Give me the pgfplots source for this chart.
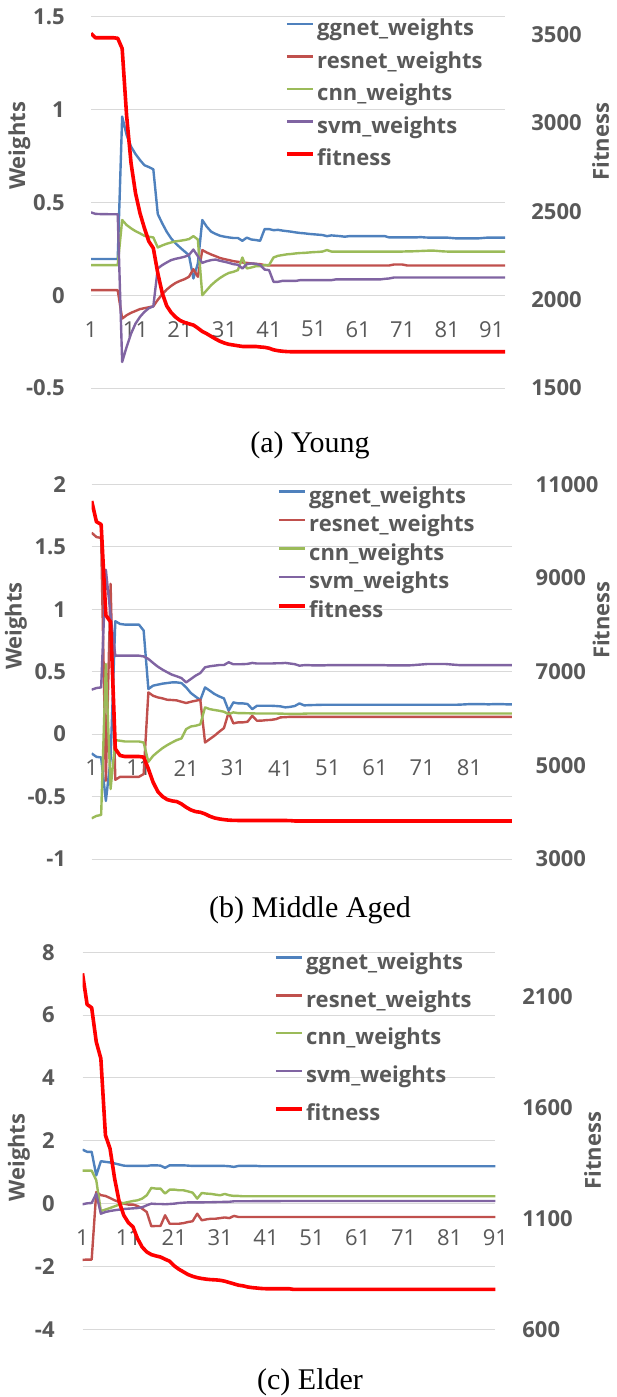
\documentclass[border=0pt]{standalone}
\usepackage{fontspec}
\setmainfont{Liberation Serif}
\newfontfamily\calfont{Open Sans}
\usepackage{pgfplots}
\usepackage{pgfplotstable}
\pgfplotsset{compat=1.18}

\definecolor{ggc}{RGB}{79,129,189}
\definecolor{resc}{RGB}{192,80,77}
\definecolor{cnnc}{RGB}{155,187,89}
\definecolor{svmc}{RGB}{128,100,162}
\definecolor{fitc}{RGB}{255,0,0}
\definecolor{txt}{RGB}{89,89,89}
\definecolor{grd}{RGB}{217,217,217}

% (a) Young
\pgfplotstableread{
x gg res cnn svm fit
1 0.195 0.027 0.162 0.446 3505
2 0.195 0.027 0.162 0.438 3481
3 0.195 0.027 0.162 0.437 3481
4 0.195 0.027 0.162 0.437 3481
5 0.195 0.027 0.162 0.436 3481
6 0.195 0.027 0.162 0.436 3481
7 0.195 0.027 0.162 0.436 3478
8 0.962 -0.126 0.405 -0.360 3420
9 0.863 -0.108 0.378 -0.279 3040
10 0.800 -0.095 0.360 -0.207 2771
11 0.760 -0.085 0.345 -0.153 2602
12 0.728 -0.075 0.333 -0.117 2489
13 0.700 -0.070 0.320 -0.090 2404
14 0.690 -0.065 0.315 -0.070 2329
15 0.678 -0.060 0.311 -0.060 2291
16 0.437 -0.025 0.257 0.144 2150
17 0.387 0.005 0.268 0.162 2037
18 0.342 0.030 0.277 0.176 1965
19 0.306 0.050 0.284 0.189 1927
20 0.279 0.066 0.290 0.196 1901
21 0.257 0.077 0.293 0.201 1882
22 0.236 0.086 0.297 0.207 1871
23 0.216 0.099 0.302 0.216 1863
24 0.090 0.140 0.318 0.246 1856
25 0.170 0.099 0.300 0.210 1839
26 0.405 0.243 0.000 0.174 1820
27 0.369 0.230 0.027 0.183 1807
28 0.342 0.219 0.054 0.189 1792
29 0.330 0.210 0.075 0.192 1777
30 0.320 0.200 0.093 0.185 1764
31 0.315 0.194 0.108 0.180 1754
32 0.311 0.189 0.120 0.174 1747
33 0.308 0.183 0.126 0.167 1743
34 0.308 0.180 0.135 0.164 1739
35 0.293 0.176 0.203 0.144 1735
36 0.310 0.174 0.144 0.167 1735
37 0.300 0.171 0.149 0.171 1735
38 0.297 0.169 0.156 0.169 1735
39 0.293 0.167 0.156 0.162 1732
40 0.356 0.162 0.162 0.138 1730
41 0.356 0.160 0.162 0.135 1725
42 0.350 0.160 0.203 0.072 1716
43 0.352 0.160 0.212 0.072 1711
44 0.348 0.160 0.216 0.077 1708
45 0.345 0.160 0.220 0.077 1706
46 0.342 0.160 0.222 0.077 1705
47 0.338 0.160 0.225 0.077 1705
48 0.335 0.160 0.227 0.081 1705
49 0.333 0.160 0.228 0.081 1705
50 0.330 0.160 0.230 0.081 1705
51 0.328 0.160 0.232 0.081 1705
52 0.326 0.160 0.233 0.081 1705
53 0.324 0.160 0.235 0.081 1705
54 0.318 0.160 0.243 0.081 1705
55 0.322 0.160 0.235 0.081 1705
56 0.320 0.160 0.235 0.085 1705
57 0.318 0.160 0.235 0.085 1705
58 0.315 0.160 0.235 0.085 1705
59 0.318 0.160 0.235 0.085 1705
60 0.318 0.160 0.235 0.085 1705
61 0.318 0.160 0.235 0.085 1705
62 0.318 0.160 0.235 0.085 1705
63 0.318 0.160 0.235 0.085 1705
64 0.318 0.160 0.235 0.085 1705
65 0.318 0.160 0.235 0.085 1705
66 0.318 0.160 0.235 0.085 1705
67 0.318 0.160 0.235 0.088 1705
68 0.311 0.160 0.235 0.090 1705
69 0.311 0.165 0.235 0.095 1705
70 0.311 0.165 0.235 0.095 1705
71 0.311 0.165 0.235 0.095 1705
72 0.311 0.160 0.236 0.095 1705
73 0.311 0.160 0.236 0.095 1705
74 0.311 0.160 0.237 0.095 1705
75 0.313 0.160 0.238 0.095 1705
76 0.311 0.160 0.239 0.095 1705
77 0.310 0.160 0.240 0.095 1705
78 0.310 0.160 0.240 0.095 1705
79 0.310 0.160 0.238 0.095 1705
80 0.310 0.160 0.236 0.095 1705
81 0.310 0.160 0.235 0.095 1705
82 0.308 0.160 0.235 0.095 1705
83 0.306 0.160 0.235 0.095 1705
84 0.306 0.160 0.235 0.095 1705
85 0.306 0.160 0.235 0.095 1705
86 0.306 0.160 0.235 0.095 1705
87 0.306 0.160 0.235 0.095 1705
88 0.306 0.160 0.235 0.095 1705
89 0.308 0.160 0.235 0.095 1705
90 0.310 0.160 0.235 0.095 1705
91 0.310 0.160 0.235 0.095 1705
92 0.310 0.160 0.235 0.095 1705
93 0.310 0.160 0.235 0.095 1705
94 0.310 0.160 0.235 0.095 1705
}\dataA

% (b) Middle Aged
\pgfplotstableread{
x gg res cnn svm fit
1 -0.155 1.612 -0.674 0.356 10644
2 -0.182 1.578 -0.655 0.369 10201
3 -0.187 1.570 -0.647 0.374 10144
4 -0.535 -0.374 0.561 1.316 8205
5 -0.200 1.203 -0.440 0.950 8062
6 0.904 -0.366 -0.048 0.628 5353
7 0.882 -0.342 -0.053 0.628 5210
8 0.877 -0.342 -0.059 0.628 5189
9 0.877 -0.342 -0.059 0.628 5189
10 0.877 -0.342 -0.059 0.628 5189
11 0.877 -0.342 -0.059 0.628 5189
12 0.829 -0.320 -0.067 0.622 5175
13 0.361 0.334 -0.222 0.602 4925
14 0.388 0.307 -0.174 0.570 4640
15 0.396 0.294 -0.142 0.540 4440
16 0.404 0.286 -0.112 0.516 4333
17 0.409 0.275 -0.088 0.495 4269
18 0.414 0.273 -0.067 0.476 4241
19 0.414 0.270 -0.048 0.463 4226
20 0.409 0.259 -0.035 0.449 4176
21 0.374 0.249 0.040 0.414 4105
22 0.329 0.259 0.061 0.441 4048
23 0.300 0.267 0.067 0.468 4012
24 0.273 0.275 0.078 0.489 3998
25 0.374 -0.067 0.214 0.535 3963
26 0.348 -0.040 0.200 0.543 3913
27 0.321 -0.013 0.193 0.548 3877
28 0.302 0.019 0.187 0.553 3856
29 0.286 0.048 0.179 0.553 3841
30 0.187 0.174 0.160 0.575 3830
31 0.254 0.086 0.174 0.559 3825
32 0.246 0.094 0.168 0.559 3823
33 0.246 0.094 0.168 0.560 3822
34 0.241 0.099 0.167 0.562 3822
35 0.200 0.147 0.166 0.570 3822
36 0.227 0.107 0.165 0.565 3822
37 0.227 0.108 0.165 0.565 3822
38 0.227 0.112 0.165 0.565 3822
39 0.227 0.114 0.165 0.565 3822
40 0.225 0.120 0.165 0.567 3822
41 0.222 0.134 0.164 0.567 3822
42 0.214 0.136 0.163 0.570 3822
43 0.218 0.138 0.162 0.565 3820
44 0.225 0.138 0.162 0.560 3812
45 0.246 0.138 0.162 0.548 3812
46 0.230 0.138 0.164 0.552 3812
47 0.232 0.138 0.165 0.552 3812
48 0.233 0.138 0.165 0.550 3812
49 0.234 0.138 0.165 0.550 3812
50 0.235 0.138 0.165 0.550 3812
51 0.235 0.138 0.165 0.552 3812
52 0.235 0.138 0.165 0.552 3812
53 0.235 0.138 0.165 0.552 3812
54 0.235 0.138 0.165 0.552 3812
55 0.235 0.138 0.165 0.552 3812
56 0.235 0.138 0.165 0.552 3812
57 0.235 0.138 0.165 0.552 3812
58 0.235 0.138 0.165 0.552 3812
59 0.235 0.138 0.165 0.552 3812
60 0.235 0.138 0.165 0.552 3812
61 0.235 0.138 0.165 0.552 3812
62 0.235 0.138 0.165 0.552 3812
63 0.235 0.138 0.165 0.552 3812
64 0.235 0.138 0.165 0.550 3812
65 0.235 0.138 0.165 0.550 3812
66 0.235 0.138 0.165 0.550 3812
67 0.235 0.138 0.165 0.550 3812
68 0.235 0.138 0.165 0.550 3812
69 0.235 0.138 0.165 0.552 3812
70 0.235 0.138 0.165 0.555 3812
71 0.235 0.138 0.165 0.558 3812
72 0.235 0.138 0.165 0.561 3812
73 0.235 0.138 0.165 0.561 3812
74 0.235 0.138 0.165 0.561 3812
75 0.235 0.138 0.165 0.561 3812
76 0.235 0.138 0.165 0.561 3812
77 0.235 0.138 0.165 0.558 3812
78 0.235 0.138 0.165 0.555 3812
79 0.236 0.138 0.165 0.552 3812
80 0.238 0.138 0.165 0.552 3812
81 0.240 0.138 0.165 0.552 3812
82 0.240 0.138 0.165 0.552 3812
83 0.240 0.138 0.165 0.552 3812
84 0.240 0.138 0.165 0.552 3812
85 0.238 0.138 0.165 0.552 3812
86 0.240 0.138 0.165 0.552 3812
87 0.240 0.138 0.165 0.552 3812
88 0.240 0.138 0.165 0.552 3812
89 0.238 0.138 0.165 0.552 3812
90 0.238 0.138 0.165 0.552 3812
}\dataB

% (c) Elder
\pgfplotstableread{
x gg res cnn svm fit
1 1.72 -1.79 1.05 -0.02 2205
2 1.65 -1.78 1.05 0.01 2065
3 1.65 -1.78 1.05 0.02 2050
4 0.90 0.37 0.745 0.32 1896
5 1.35 0.27 -0.234 -0.32 1821
6 1.33 0.245 -0.19 -0.266 1475
7 1.31 0.18 -0.14 -0.234 1415
8 1.28 0.106 -0.085 -0.21 1280
9 1.245 0.053 -0.03 -0.19 1175
10 1.21 0.0 0.02 -0.17 1114
11 1.20 -0.03 0.053 -0.16 1081
12 1.20 -0.03 0.085 -0.15 1062
13 1.20 -0.074 0.106 -0.14 1009
14 1.20 -0.16 0.16 -0.117 971
15 1.20 -0.266 0.266 -0.053 949
16 1.22 -0.72 0.50 0.0 937
17 1.22 -0.71 0.48 -0.01 931
18 1.21 -0.71 0.48 -0.01 926
19 1.14 -0.37 0.32 -0.02 916
20 1.22 -0.64 0.447 -0.01 907
21 1.22 -0.64 0.447 0.0 886
22 1.22 -0.64 0.426 0.02 871
23 1.22 -0.62 0.426 0.03 859
24 1.21 -0.585 0.39 0.04 847
25 1.20 -0.56 0.35 0.04 839
26 1.20 -0.32 0.16 0.04 833
27 1.20 -0.53 0.34 0.04 829
28 1.20 -0.50 0.32 0.045 826
29 1.20 -0.48 0.31 0.045 824
30 1.20 -0.48 0.287 0.05 823
31 1.20 -0.46 0.266 0.053 821
32 1.20 -0.44 0.31 0.055 817
33 1.19 -0.46 0.266 0.06 811
34 1.17 -0.39 0.245 0.075 805
35 1.20 -0.425 0.245 0.075 799
36 1.20 -0.425 0.234 0.075 796
37 1.20 -0.425 0.234 0.075 791
38 1.20 -0.425 0.234 0.078 788
39 1.20 -0.425 0.234 0.08 786
40 1.19 -0.425 0.234 0.08 784
41 1.19 -0.425 0.234 0.08 783
42 1.19 -0.425 0.234 0.08 783
43 1.19 -0.425 0.234 0.08 783
44 1.19 -0.425 0.234 0.082 783
45 1.19 -0.425 0.234 0.085 783
46 1.19 -0.425 0.234 0.085 783
47 1.19 -0.425 0.234 0.085 780
48 1.19 -0.425 0.234 0.085 780
49 1.19 -0.425 0.234 0.085 780
50 1.19 -0.425 0.234 0.085 780
51 1.19 -0.425 0.234 0.085 780
52 1.19 -0.425 0.234 0.085 780
53 1.19 -0.425 0.234 0.085 780
54 1.19 -0.425 0.234 0.085 780
55 1.19 -0.425 0.234 0.085 780
56 1.19 -0.425 0.234 0.085 780
57 1.19 -0.425 0.234 0.085 780
58 1.19 -0.425 0.234 0.085 780
59 1.19 -0.425 0.234 0.085 780
60 1.19 -0.425 0.234 0.085 780
61 1.19 -0.425 0.234 0.085 780
62 1.19 -0.425 0.234 0.085 780
63 1.19 -0.425 0.234 0.085 780
64 1.19 -0.425 0.234 0.085 780
65 1.19 -0.425 0.234 0.085 780
66 1.19 -0.425 0.234 0.085 780
67 1.19 -0.425 0.234 0.085 780
68 1.19 -0.425 0.234 0.085 780
69 1.19 -0.425 0.234 0.085 780
70 1.19 -0.425 0.234 0.085 780
71 1.19 -0.425 0.234 0.085 780
72 1.19 -0.425 0.234 0.085 780
73 1.19 -0.425 0.234 0.085 780
74 1.19 -0.425 0.234 0.085 780
75 1.19 -0.425 0.234 0.085 780
76 1.19 -0.425 0.234 0.085 780
77 1.19 -0.425 0.234 0.085 780
78 1.19 -0.425 0.234 0.085 780
79 1.19 -0.425 0.234 0.085 780
80 1.19 -0.425 0.234 0.085 780
81 1.19 -0.425 0.234 0.085 780
82 1.19 -0.425 0.234 0.085 780
83 1.19 -0.425 0.234 0.085 780
84 1.19 -0.425 0.234 0.085 780
85 1.19 -0.425 0.234 0.085 780
86 1.19 -0.425 0.234 0.085 780
87 1.19 -0.425 0.234 0.085 780
88 1.19 -0.425 0.234 0.085 780
89 1.19 -0.425 0.234 0.085 780
90 1.19 -0.425 0.234 0.085 780
91 1.19 -0.425 0.234 0.085 780
}\dataC

\pgfplotsset{
  panel/.style={
    scale only axis, anchor=south west,
    tick style={draw=none}, major tick length=0pt,
    axis line style={draw=none},
    scaled y ticks=false,
    yticklabel style={font=\calfont\bfseries\fontsize{11}{13}\selectfont, text=txt, inner sep=0pt},
    ylabel style={font=\calfont\bfseries\fontsize{11}{13}\selectfont, text=txt, anchor=center},
    every axis plot/.append style={line width=1.2pt, line join=round, no marks},
  },
  weightaxis/.style={
    panel,
    axis x line*=middle, axis y line*=left,
    hide obscured x ticks=false,
    ymajorgrids, grid style={grd, line width=0.5pt},
    xticklabel style={font=\calfont\fontsize{11}{13}\selectfont, text=txt, anchor=center, inner sep=0pt, yshift=-17pt},
    yticklabel style={anchor=east},
  },
  fitaxis/.style={
    panel,
    axis x line=none, axis y line*=right,
    yticklabel style={anchor=west},
    legend cell align=left,
    legend image code/.code={\draw[##1] (0pt,2.9pt) -- (13.3pt,2.9pt);},
    legend style={draw=none, fill=none, anchor=north west, inner sep=0pt, outer sep=0pt,
      column sep=1pt, text=txt, font=\calfont\bfseries\fontsize{11}{13}\selectfont,
      nodes={inner sep=0pt, text height=8.5pt, text depth=2.5pt}},
  },
}

\begin{document}
\begin{tikzpicture}
\useasboundingbox (0,0) rectangle (308pt,-698.5pt);

% ---------- (a) Young ----------
\begin{axis}[weightaxis, at={(45.5pt,-194pt)}, width=207pt, height=185.65pt,
  xmin=1, xmax=94, ymin=-0.5, ymax=1.5,
  xtick={1,11,...,91}, xticklabels={1,11,21,31,41,51,61,71,81,91},
  ytick={-0.5,0,0.5,1,1.5}, yticklabels={-0.5,0,0.5,1,1.5},
  yticklabel style={xshift=-13pt},
  ylabel={Weights}, ylabel style={at={(axis description cs:-0.1727,0.6518)}}]
\addplot[ggc] table[x=x,y=gg]{\dataA};
\addplot[resc] table[x=x,y=res]{\dataA};
\addplot[cnnc] table[x=x,y=cnn]{\dataA};
\addplot[svmc] table[x=x,y=svm]{\dataA};
\end{axis}
\begin{axis}[fitaxis, at={(45.5pt,-194pt)}, width=207pt, height=185.65pt,
  xmin=1, xmax=94, ymin=1500, ymax=3600,
  ytick={1500,2000,2500,3000,3500}, yticklabels={1500,2000,2500,3000,3500},
  yticklabel style={xshift=13pt},
  ylabel={Fitness}, ylabel style={at={(axis description cs:1.2307,0.6633)}},
  legend style={at={(axis description cs:0.4686,0.9943)}, row sep=5.25pt}]
\addlegendimage{ggc, line width=1.2pt}\addlegendentry{ggnet\_weights}
\addlegendimage{resc, line width=1.2pt}\addlegendentry{resnet\_weights}
\addlegendimage{cnnc, line width=1.2pt}\addlegendentry{cnn\_weights}
\addlegendimage{svmc, line width=1.2pt}\addlegendentry{svm\_weights}
\addplot[fitc, line width=1.8pt] table[x=x,y=fit]{\dataA};
\addlegendentry{fitness}
\end{axis}
\node[font=\fontsize{15}{18}\selectfont] at (155pt,-222.85pt) {(a) Young};

% ---------- (b) Middle Aged ----------
\begin{axis}[weightaxis, at={(45.85pt,-429.5pt)}, width=210.15pt, height=187.35pt,
  xmin=1, xmax=90, ymin=-1, ymax=2,
  xtick={1,11,...,81}, xticklabels={1,11,21,31,41,51,61,71,81},
  ytick={-1,-0.5,0,0.5,1,1.5,2}, yticklabels={-1,-0.5,0,0.5,1,1.5,2},
  yticklabel style={xshift=-12.65pt},
  ylabel={Weights}, ylabel style={at={(axis description cs:-0.1801,0.6218)}}]
\addplot[ggc] table[x=x,y=gg]{\dataB};
\addplot[resc] table[x=x,y=res]{\dataB};
\addplot[cnnc] table[x=x,y=cnn]{\dataB};
\addplot[svmc] table[x=x,y=svm]{\dataB};
\end{axis}
\begin{axis}[fitaxis, at={(45.85pt,-429.5pt)}, width=210.15pt, height=187.35pt,
  xmin=1, xmax=90, ymin=3000, ymax=11000,
  ytick={3000,5000,7000,9000,11000}, yticklabels={3000,5000,7000,9000,11000},
  yticklabel style={xshift=11.65pt},
  ylabel={Fitness}, ylabel style={at={(axis description cs:1.2118,0.6378)}},
  legend style={at={(axis description cs:0.4409,0.9952)}, row sep=3.3pt}]
\addlegendimage{ggc, line width=1.2pt}\addlegendentry{ggnet\_weights}
\addlegendimage{resc, line width=1.2pt}\addlegendentry{resnet\_weights}
\addlegendimage{cnnc, line width=1.2pt}\addlegendentry{cnn\_weights}
\addlegendimage{svmc, line width=1.2pt}\addlegendentry{svm\_weights}
\addplot[fitc, line width=1.8pt] table[x=x,y=fit]{\dataB};
\addlegendentry{fitness}
\end{axis}
\node[font=\fontsize{15}{18}\selectfont] at (155pt,-455.35pt) {(b) Middle Aged};

% ---------- (c) Elder ----------
\begin{axis}[weightaxis, at={(41.25pt,-664.65pt)}, width=206.5pt, height=188.5pt,
  xmin=1, xmax=91, ymin=-4, ymax=8,
  xtick={1,11,...,91}, xticklabels={1,11,21,31,41,51,61,71,81,91},
  ytick={-4,-2,0,2,4,6,8}, yticklabels={-4,-2,0,2,4,6,8},
  yticklabel style={xshift=-13.75pt},
  ylabel={Weights}, ylabel style={at={(axis description cs:-0.1538,0.4557)}}]
\addplot[ggc] table[x=x,y=gg]{\dataC};
\addplot[resc] table[x=x,y=res]{\dataC};
\addplot[cnnc] table[x=x,y=cnn]{\dataC};
\addplot[svmc] table[x=x,y=svm]{\dataC};
\end{axis}
\begin{axis}[fitaxis, at={(41.25pt,-664.65pt)}, width=206.5pt, height=188.5pt,
  xmin=1, xmax=91, ymin=600, ymax=2300,
  ytick={600,1100,1600,2100}, yticklabels={600,1100,1600,2100},
  yticklabel style={xshift=13.25pt},
  ylabel={Fitness}, ylabel style={at={(axis description cs:1.2354,0.4735)}},
  legend style={at={(axis description cs:0.4637,1.0)}, row sep=7.9pt}]
\addlegendimage{ggc, line width=1.2pt}\addlegendentry{ggnet\_weights}
\addlegendimage{resc, line width=1.2pt}\addlegendentry{resnet\_weights}
\addlegendimage{cnnc, line width=1.2pt}\addlegendentry{cnn\_weights}
\addlegendimage{svmc, line width=1.2pt}\addlegendentry{svm\_weights}
\addplot[fitc, line width=1.8pt] table[x=x,y=fit]{\dataC};
\addlegendentry{fitness}
\end{axis}
\node[font=\fontsize{15}{18}\selectfont] at (155pt,-691.15pt) {(c) Elder};
\end{tikzpicture}
\end{document}
